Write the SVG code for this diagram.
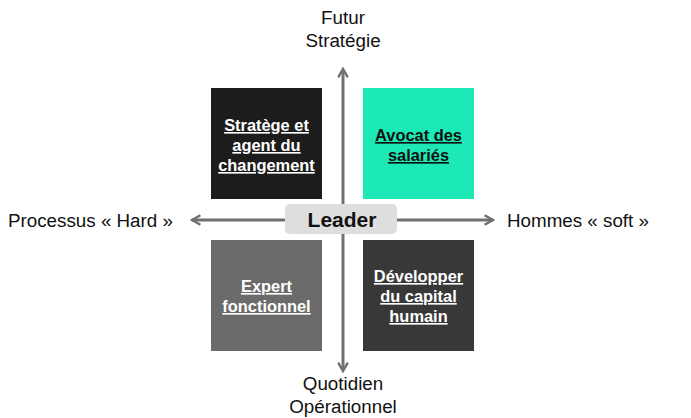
<svg xmlns="http://www.w3.org/2000/svg" width="691" height="418" viewBox="0 0 691 418">
<style>
.q{font-family:"Liberation Sans",Arial,sans-serif;font-size:16.4px;font-weight:bold;text-decoration:underline;text-anchor:middle}
.w{fill:#fff}
.l{font-family:"Liberation Sans",Arial,sans-serif;font-size:18.8px;fill:#111}
.ax{stroke:#707070;stroke-width:3;fill:none}
</style>
<defs><marker id="a" viewBox="0 0 10 10" refX="8" refY="5" markerWidth="4" markerHeight="4" orient="auto"><path d="M1,1 L8,5 L1,9" fill="none" stroke="#707070" stroke-width="2"/></marker></defs>
<rect width="691" height="418" fill="#fff"/>
<g id="connectors">
<line class="ax" x1="343" y1="204" x2="343" y2="69" marker-end="url(#a)"/>
<line class="ax" x1="343" y1="234" x2="343" y2="371" marker-end="url(#a)"/>
<line class="ax" x1="285" y1="220" x2="192" y2="220" marker-end="url(#a)"/>
<line class="ax" x1="397" y1="220" x2="493" y2="220" marker-end="url(#a)"/>
</g>
<g id="tl"><rect x="211" y="88" width="111" height="111" fill="#1c1c1c"/>
<text class="q w" x="266.5" y="131">Stratège et</text><text class="q w" x="266.5" y="151">agent du</text><text class="q w" x="266.5" y="171">changement</text></g>
<g id="tr"><rect x="363" y="88" width="111" height="111" fill="#1de9b6"/>
<text class="q" fill="#111" x="418.5" y="141">Avocat des</text><text class="q" fill="#111" x="418.5" y="161">salariés</text></g>
<g id="bl"><rect x="211" y="240" width="111" height="111" fill="#6b6b6b"/>
<text class="q w" x="266.5" y="292">Expert</text><text class="q w" x="266.5" y="312">fonctionnel</text></g>
<g id="br"><rect x="363" y="240" width="111" height="111" fill="#383838"/>
<text class="q w" x="418.5" y="282">Développer</text><text class="q w" x="418.5" y="302">du capital</text><text class="q w" x="418.5" y="322">humain</text></g>
<g id="leader"><rect x="285" y="204" width="112" height="30" rx="5" fill="#dedede"/>
<text x="342" y="227" text-anchor="middle" font-family="Liberation Sans,Arial,sans-serif" font-size="21" font-weight="bold" fill="#111">Leader</text></g>
<g id="labels">
<text class="l" x="343" y="24" text-anchor="middle">Futur</text>
<text class="l" x="343" y="47" text-anchor="middle">Stratégie</text>
<text class="l" x="343" y="390" text-anchor="middle">Quotidien</text>
<text class="l" x="343" y="413" text-anchor="middle">Opérationnel</text>
<text class="l" x="8" y="227">Processus « Hard »</text>
<text class="l" x="507" y="227">Hommes « soft »</text>
</g>
</svg>
